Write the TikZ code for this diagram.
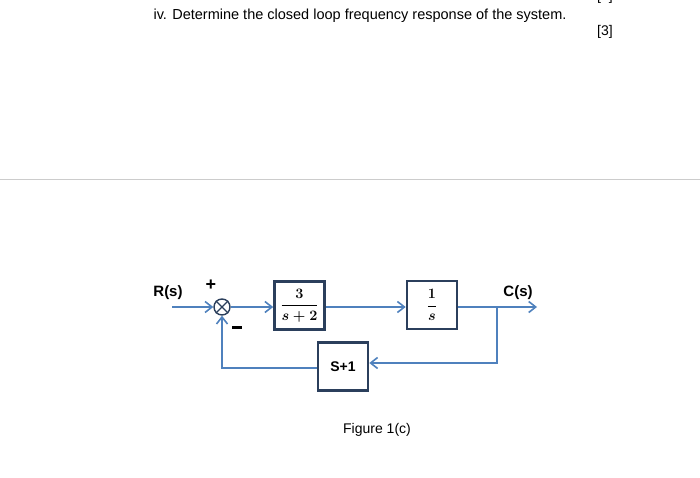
\documentclass[tikz,border=0pt]{standalone}
\usepackage{fontspec}
\setmainfont{Liberation Sans}
\usepackage{amsmath}
\usetikzlibrary{arrows.meta}
\definecolor{ln}{HTML}{4F81BD}
\definecolor{bx}{HTML}{2B3F5C}
\begin{document}
\begin{tikzpicture}[x=1pt,y=-1pt,
  blk/.style={draw=bx,line width=2.6pt,minimum width=50pt,minimum height=48pt,inner sep=0pt,font=\bfseries\fontsize{14}{16}\selectfont},
  sig/.style={draw=ln,line width=1.6pt,-{Straight Barb[length=7pt,width=11pt,line width=1.6pt]}},
  lbl/.style={font=\bfseries\fontsize{15}{17}\selectfont}]
\useasboundingbox (0,0) rectangle (700,478);
\node[font=\fontsize{14.5}{16}\selectfont,anchor=west] (q) at (150,16) {iv. Determine the closed loop frequency response of the system.};
\node[font=\fontsize{14}{16}\selectfont] (m3) at (605,32) {[3]};
\node[font=\fontsize{14}{16}\selectfont] (m2) at (605,-3) {[2]};
\draw[gray!40,line width=1pt] (0,180) -- (700,180);
\node[lbl] (r) at (168,293) {R(s)};
\coordinate (rin) at (172,307);
\node[draw=bx,circle,line width=1.4pt,minimum size=16pt,inner sep=0pt] (sum) at (222,307) {};
\draw[bx,line width=1.4pt] (sum.north west) -- (sum.south east) (sum.north east) -- (sum.south west);
\node[font=\bfseries\fontsize{18}{18}\selectfont] (pl) at (211,285) {+};
\node (mi) at (237,327) {\rule{10pt}{3pt}};
\node[blk] (g1) at (299.5,305.5) {\fontsize{15}{17}\selectfont$\boldsymbol{\dfrac{3}{s+2}}$};
\node[blk] (g2) at (432,305) {\fontsize{15}{17}\selectfont$\boldsymbol{\dfrac{1}{s}}$};
\node[blk] (h) at (343,366.5) {S+1};
\node[lbl] (c) at (518,293) {C(s)};
\coordinate (out) at (537,307);
\coordinate (br) at (497,307);
\coordinate (fb) at (222,368);
\draw[sig] (rin) -- (sum);
\draw[sig] (sum) -- (g1.west|-sum);
\draw[sig] (g1.east|-sum) -- (g2.west|-sum);
\draw[sig] (g2.east|-sum) -- (out);
\draw[sig] (br) |- (h.east|-363,363);
\draw[sig] (h.west|-fb) -- (fb) -- (sum.south);
\node[font=\fontsize{14}{16}\selectfont] (fig) at (377,430) {Figure 1(c)};
\end{tikzpicture}
\end{document}
